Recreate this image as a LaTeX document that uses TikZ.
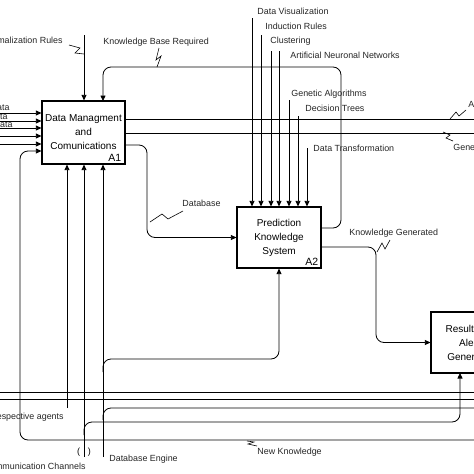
\documentclass[tikz,border=0pt]{standalone}
\usepackage{fontspec}
\setmainfont{Liberation Sans}
\usetikzlibrary{arrows.meta}

\begin{document}
\begin{tikzpicture}[
			x=1pt, y=-1pt,
			>={Triangle[length=5.5pt,width=5pt]},
			line width=0.8pt,
			box/.style = {draw, line width=1.2pt, align=center, inner sep=0pt, font=\fontsize{10}{14}\selectfont},
			num/.style = {font=\fontsize{10.5}{12}\selectfont, inner sep=0pt},
			lbl/.style = {font=\fontsize{8.9}{10}\selectfont, inner sep=0pt, text=black!85},
			flow/.style = {rounded corners=8pt},
			squig/.style = {line width=0.6pt}
		]
		\useasboundingbox (0,0) rectangle (474,474);
		\clip (0,0) rectangle (474,474);
		\node[box, minimum width=83pt, minimum height=63pt] (a1) at (83.5,132.5) {Data Managment\\and\\Comunications};
		\node[num, anchor=south east, xshift=-4pt, yshift=3pt] (n1) at (a1.south east) {A1};
		\node[box, minimum width=84pt, minimum height=61pt] (a2) at (279,237.5) {Prediction\\Knowledge\\System};
		\node[num, anchor=south east, xshift=-3pt, yshift=3pt] (n2) at (a2.south east) {A2};
		\node[box, minimum width=82pt, minimum height=61pt] (a3) at (472,342.5) {Results and\\Alerts\\Generation};
		% inputs of A1
		\node[lbl, anchor=east] (d1) at (10,107) {Data};
		\node[lbl, anchor=east] (d2) at (8,116) {Data};
		\node[lbl, anchor=east] (d3) at (13,124) {Data};
		\foreach \y in {113,121,128,136,144}
			\draw[->] (0,\y) -- (a1.west |- 0,\y);
		% controls
		\node[lbl, anchor=east] (nrl) at (63,40) {Normalization Rules};
		\coordinate (nr) at (84,35);
		\draw[->] (nr) -- (nr |- a1.north);
		\draw[squig] (69,45) -- (80,48) -- (75,53) -- (84,54);
		\node[lbl, anchor=west] (kbl) at (103,42) {Knowledge Base Required};
		\draw[squig] (159,48) -- (156,60) -- (161,56) -- (157,67);
		\draw[->, flow] ([yshift=9.5pt]a2.east) -- (341,228) -- (341,67) -- (103,67) -- (103,101);
		\node[lbl, anchor=west] (dv) at (257,11) {Data Visualization};
		\node[lbl, anchor=west] (ir) at (265,26) {Induction Rules};
		\node[lbl, anchor=west] (cl) at (270,41) {Clustering};
		\node[lbl, anchor=west] (ann) at (290,55) {Artificial Neuronal Networks};
		\node[lbl, anchor=west] (ga) at (291,94) {Genetic Algorithms};
		\node[lbl, anchor=west] (dt) at (305,108) {Decision Trees};
		\node[lbl, anchor=west] (dtr) at (313,148) {Data Transformation};
		\foreach \x/\t in {252/18, 261/35, 271/51, 279/51, 289/100, 298/116, 307/148} {
			\coordinate (c\x) at (\x,\t);
			\draw[->] (c\x) -- (c\x |- a2.north);
		}
		% outputs
		\coordinate (r1) at (474,119);
		\coordinate (r2) at (474,133);
		\draw (a1.east |- r1) -- (r1);
		\draw (a1.east |- r2) -- (r2);
		\node[lbl, anchor=west] (al) at (468,104) {Alerts};
		\draw[squig] (450,119) -- (456,112) -- (459,116) -- (466,110);
		\node[lbl, anchor=west] (gk) at (453,148) {Generated Knowledge};
		\draw[squig] (443,132) -- (450,135) -- (446,138) -- (453,141);
		\draw[->, flow] ([yshift=-12.5pt]a1.east) -- (147,145) -- (147,237.5) -- (a2.west);
		\node[lbl, anchor=west] (dbl) at (182,203) {Database};
		\draw[squig] (150,222) -- (162,214) -- (168,219) -- (183,211);
		\draw[->, flow] ([yshift=-9.5pt]a2.east) -- (376,247) -- (376,342.5) -- (a3.west);
		\node[lbl, anchor=west] (kgl) at (349,233) {Knowledge Generated};
		\draw[squig] (377,252) -- (382,243) -- (385,249) -- (390,240);
		% feedback
		\coordinate (r6) at (474,440);
		\draw[->, flow] (r6) -- (20,440) -- (20,151) -- (a1.west |- 0,151);
		\node[lbl, anchor=west] (nkl) at (257,452) {New Knowledge};
		\draw[squig] (247,441) -- (254,442) -- (248,444) -- (257,446);
		% mechanisms
		\coordinate (m1) at (67,408);
		\coordinate (m2) at (84,457);
		\coordinate (m3) at (103,457);
		\draw[->] (m1) -- (m1 |- a1.south);
		\draw[->] (m2) -- (m2 |- a1.south);
		\draw[->] (m3) -- (m3 |- a1.south);
		\node[lbl, anchor=east] (ral) at (64,417) {Respective agents};
		\node[lbl, anchor=east] (ccl) at (86,466) {Communication Channels};
		\node[lbl, anchor=west] (del) at (109,459) {Database Engine};
		\node[font=\fontsize{9}{10}\selectfont, inner sep=0pt] (tn) at (84,452) {(\hspace{8pt})};
		\draw[->, flow] (103,372) -- (103,359) -- (279,359) -- (a2.south);
		\draw[flow] (103,420) -- (103,408) -- (474,408);
		\draw[->, flow] (84,435) -- (84,422) -- (460,422) -- (460,373);
		\coordinate (l1) at (0,392);
		\coordinate (l2) at (0,399);
		\draw (l1) -- (l1 -| r1);
		\draw (l2) -- (l2 -| r1);
	\end{tikzpicture}
\end{document}
